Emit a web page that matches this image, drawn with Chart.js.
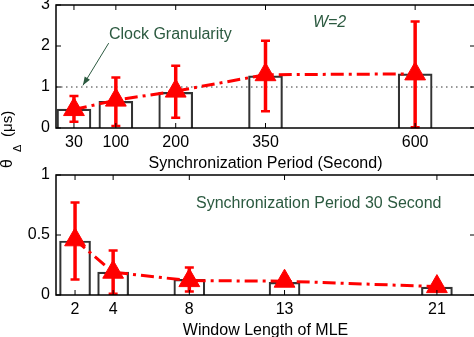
<!DOCTYPE html>
<html>
<head>
<meta charset="utf-8">
<script src="https://cdn.jsdelivr.net/npm/chart.js@4/dist/chart.umd.min.js"></script>
<style>
  body { margin: 0; background: #fff; width: 474px; height: 337px; overflow: hidden; position: relative; }
  canvas { position: absolute; left: 0; }
  #top { top: 0; }
  #bottom { top: 160px; }
</style>
</head>
<body>
<canvas id="top" width="480" height="173" style="width:480px;height:173px"></canvas>
<canvas id="bottom" width="480" height="180" style="width:480px;height:180px"></canvas>
<script>
// top panel: synchronization period, W=2
const periods = [30, 100, 200, 350, 600];
const periodBars = [0.46, 0.65, 0.87, 1.27, 1.32];
const periodMean = [0.45, 0.68, 0.90, 1.30, 1.32];
const periodLow = [0.15, 0.05, 0.25, 0.41, 0.02];
const periodHigh = [0.78, 1.23, 1.52, 2.13, 2.60];
const periodTicks = [0, 1, 2, 3];

// bottom panel: window length of MLE, period 30 s
const windows = [2, 4, 8, 13, 21];
const windowBars = [0.45, 0.19, 0.13, 0.105, 0.065];
const windowMean = [0.46, 0.19, 0.12, 0.115, 0.07];
const windowLow = [0.13, 0.01, 0.03, 0.08, 0.05];
const windowHigh = [0.77, 0.37, 0.23, 0.15, 0.09];
const windowTicks = [0, 0.5, 1];

const FONT = 'Liberation Sans, Arial, Helvetica, sans-serif';
const GREEN = '#2c5a40';

const framePlugin = {
  id: 'frame',
  beforeDatasetsDraw(chart, args, opts) {
    if (opts.refLine == null) return;
    const { ctx, chartArea: a, scales: { y } } = chart;
    const py = y.getPixelForValue(opts.refLine);
    ctx.save();
    ctx.strokeStyle = '#333';
    ctx.lineWidth = 1;
    ctx.setLineDash([1.5, 3.5]);
    ctx.beginPath();
    ctx.moveTo(a.left, py);
    ctx.lineTo(a.right, py);
    ctx.stroke();
    ctx.restore();
  },
  afterDatasetsDraw(chart, args, opts) {
    // error bars
    const { ctx, scales: { x, y } } = chart;
    ctx.save();
    ctx.strokeStyle = '#ff0000';
    opts.xs.forEach((v, i) => {
      const px = x.getPixelForValue(v);
      const lo = y.getPixelForValue(opts.low[i]);
      const hi = y.getPixelForValue(opts.high[i]);
      ctx.lineWidth = 3.5;
      ctx.beginPath();
      ctx.moveTo(px, lo);
      ctx.lineTo(px, hi);
      ctx.stroke();
      ctx.lineWidth = 2.5;
      ctx.beginPath();
      ctx.moveTo(px - 4.5, lo); ctx.lineTo(px + 4.5, lo);
      ctx.moveTo(px - 4.5, hi); ctx.lineTo(px + 4.5, hi);
      ctx.stroke();
    });
    ctx.restore();
  },
  afterDraw(chart, args, opts) {
    const { ctx, chartArea: a, scales: { x, y } } = chart;
    ctx.save();
    // box and inward ticks
    ctx.strokeStyle = '#000';
    ctx.lineWidth = 1.5;
    ctx.strokeRect(a.left, a.top, a.right - a.left, a.bottom - a.top);
    ctx.lineWidth = 1;
    ctx.beginPath();
    x.ticks.forEach(t => {
      const px = x.getPixelForValue(t.value);
      ctx.moveTo(px, a.bottom); ctx.lineTo(px, a.bottom - 5);
      ctx.moveTo(px, a.top); ctx.lineTo(px, a.top + 5);
    });
    y.ticks.forEach(t => {
      const py = y.getPixelForValue(t.value);
      ctx.moveTo(a.left, py); ctx.lineTo(a.left + 5, py);
      ctx.moveTo(a.right, py); ctx.lineTo(a.right - 5, py);
    });
    ctx.stroke();

    // notes in data coordinates
    (opts.notes || []).forEach(n => {
      ctx.fillStyle = GREEN;
      ctx.font = (n.italic ? 'italic ' : '') + '16px ' + FONT;
      ctx.textAlign = n.align || 'center';
      ctx.textBaseline = 'middle';
      ctx.fillText(n.text, x.getPixelForValue(n.x), y.getPixelForValue(n.y));
    });
    if (opts.arrow) {
      const [x0, y0, x1, y1] = opts.arrow;
      const ax = x.getPixelForValue(x0), ay = y.getPixelForValue(y0);
      const bx = x.getPixelForValue(x1), by = y.getPixelForValue(y1);
      const ang = Math.atan2(by - ay, bx - ax);
      ctx.strokeStyle = GREEN;
      ctx.fillStyle = GREEN;
      ctx.lineWidth = 1;
      ctx.beginPath();
      ctx.moveTo(ax, ay);
      ctx.lineTo(bx, by);
      ctx.stroke();
      ctx.beginPath();
      ctx.moveTo(bx, by);
      ctx.lineTo(bx - 9 * Math.cos(ang - 0.35), by - 9 * Math.sin(ang - 0.35));
      ctx.lineTo(bx - 9 * Math.cos(ang + 0.35), by - 9 * Math.sin(ang + 0.35));
      ctx.closePath();
      ctx.fill();
    }

    // shared y label
    if (opts.yLabel) {
      ctx.translate(12, 168);
      ctx.rotate(-Math.PI / 2);
      ctx.fillStyle = '#000';
      ctx.textAlign = 'left';
      ctx.textBaseline = 'alphabetic';
      ctx.font = '16px ' + FONT;
      ctx.fillText('θ', 0, 0);
      ctx.font = '11px ' + FONT;
      ctx.fillText('Δ', 16, 9);
      ctx.font = '15px ' + FONT;
      ctx.fillText('(μs)', 31, 0);
    }
    ctx.restore();
  }
};

function makePanel(id, cfg) {
  return new Chart(document.getElementById(id), {
    type: 'bar',
    data: {
      datasets: [
        {
          type: 'line',
          data: cfg.xs.map((v, i) => ({ x: v, y: cfg.mean[i] })),
          borderColor: '#ff0000',
          borderWidth: 3,
          borderDash: [13, 5, 3, 5],
          pointStyle: 'triangle',
          pointRadius: 12,
          pointBackgroundColor: '#ff0000',
          pointBorderColor: '#ff0000',
          pointBorderWidth: 1,
          order: 1
        },
        {
          type: 'bar',
          data: cfg.xs.map((v, i) => ({ x: v, y: cfg.bars[i] })),
          backgroundColor: 'rgba(255,255,255,0)',
          borderColor: '#333',
          borderWidth: 1.5,
          barThickness: cfg.barWidth,
          order: 2
        }
      ]
    },
    options: {
      responsive: false,
      animation: false,
      layout: { autoPadding: false, padding: { top: cfg.padTop, right: 5, left: 0, bottom: 0 } },
      plugins: {
        legend: { display: false },
        tooltip: { enabled: false },
        frame: {
          xs: cfg.xs, low: cfg.low, high: cfg.high,
          refLine: cfg.refLine, notes: cfg.notes, arrow: cfg.arrow, yLabel: cfg.yLabel
        }
      },
      scales: {
        x: {
          type: 'linear',
          min: cfg.xMin,
          max: cfg.xMax,
          offset: false,
          grid: { display: false, drawTicks: false },
          border: { display: false },
          afterBuildTicks: s => { s.ticks = cfg.xs.map(v => ({ value: v })); },
          afterFit: s => { s.height = 45; s.paddingLeft = 0; s.paddingRight = 0; },
          ticks: { color: '#000', font: { size: 16, family: FONT }, padding: 5, maxRotation: 0, autoSkip: false },
          title: { display: true, text: cfg.xTitle, color: '#000', font: { size: 16, family: FONT }, padding: 0 }
        },
        y: {
          min: 0,
          max: cfg.yMax,
          grid: { display: false, drawTicks: false },
          border: { display: false },
          afterBuildTicks: s => { s.ticks = cfg.yTicks.map(v => ({ value: v })); },
          afterFit: s => { s.width = 56; s.paddingTop = 0; s.paddingBottom = 0; },
          ticks: { color: '#000', font: { size: 16, family: FONT }, padding: 6, callback: v => String(v) }
        }
      }
    },
    plugins: [framePlugin]
  });
}

makePanel('top', {
  xs: periods, bars: periodBars, mean: periodMean, low: periodLow, high: periodHigh,
  yTicks: periodTicks, yMax: 3, xMin: 0, xMax: 700, barWidth: 34, padTop: 5,
  xTitle: 'Synchronization Period (Second)',
  refLine: 1,
  notes: [
    { text: 'Clock Granularity', x: 191, y: 2.27 },
    { text: 'W=2', x: 457, y: 2.56, italic: true }
  ],
  arrow: [88, 2.07, 45, 1.04],
  yLabel: true
});

makePanel('bottom', {
  xs: windows, bars: windowBars, mean: windowMean, low: windowLow, high: windowHigh,
  yTicks: windowTicks, yMax: 1, xMin: 1, xMax: 23, barWidth: 31, padTop: 15,
  xTitle: 'Window Length of MLE',
  notes: [
    { text: 'Synchronization Period 30 Second', x: 8.35, y: 0.76, align: 'left' }
  ]
});
</script>
</body>
</html>
